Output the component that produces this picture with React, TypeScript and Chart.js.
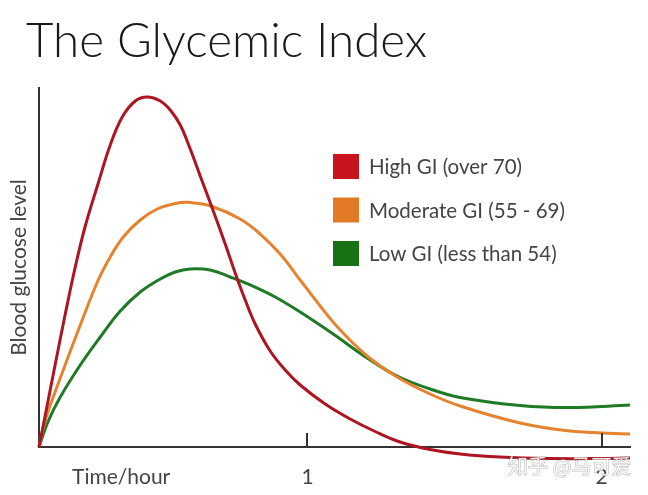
import React, { useEffect, useRef } from 'react';
import { Chart, registerables } from 'chart.js';

Chart.register(...registerables);

const chartTitle = 'The Glycemic Index';
const yAxisTitle = 'Blood glucose level';
const watermark = '知乎 @马可爱';

const seriesNames = ['High GI (over 70)', 'Moderate GI (55 - 69)', 'Low GI (less than 54)'];
const lineColors = ['#ad1520', '#e5832f', '#1f7a26'];
const boxColors = ['#c8141c', '#e27a25', '#167214'];

// time in hours, level in arbitrary units (0 = baseline)
const highHours = [0, 0.0235, 0.0607, 0.0979, 0.1351, 0.1724, 0.2208, 0.2654, 0.3101, 0.3585, 0.4032, 0.4516, 0.4888, 0.5261, 0.5633, 0.6005, 0.6452, 0.6936, 0.7308, 0.7681, 0.8053, 0.8611, 0.917, 0.9728, 1.0659, 1.159, 1.252, 1.3451, 1.4568, 1.5685, 1.7174, 1.9036, 2.0897, 2.2014];
const highLevel = [0, 8.91, 23.12, 37.05, 50.14, 61.56, 73.54, 84.12, 91.92, 96.38, 97.49, 96.38, 93.87, 89.69, 83.01, 75.49, 66.57, 56.55, 48.47, 40.95, 34.26, 26.74, 21.45, 17.27, 11.98, 7.8, 4.32, 1.39, -0.7, -1.95, -2.79, -3.2, -3.2, -3.06];

const moderateHours = [0, 0.0235, 0.0793, 0.1538, 0.2208, 0.2654, 0.3138, 0.3771, 0.4404, 0.5074, 0.5633, 0.6452, 0.7494, 0.8239, 0.8984, 0.9728, 1.0473, 1.1218, 1.2223, 1.3339, 1.4568, 1.5685, 1.7919, 1.9781, 2.2014];
const moderateLevel = [0, 7.52, 19.22, 33.98, 46.52, 52.92, 58.5, 63.23, 66.3, 67.83, 68.11, 66.99, 63.51, 59.33, 53.76, 46.52, 39.28, 32.59, 25.35, 19.5, 14.76, 11.42, 6.69, 4.46, 3.62];

const lowHours = [0, 0.0346, 0.0793, 0.1538, 0.2282, 0.3027, 0.3771, 0.4516, 0.5074, 0.5633, 0.6377, 0.7122, 0.7867, 0.8797, 0.9728, 1.0957, 1.2223, 1.3339, 1.4568, 1.5685, 1.7919, 1.9781, 2.2014];
const lowLevel = [0, 7.24, 13.93, 22.84, 30.64, 37.88, 43.18, 46.8, 48.75, 49.58, 49.3, 47.35, 45.13, 41.78, 37.6, 31.48, 24.79, 19.78, 16.16, 13.79, 11.56, 11.0, 11.7];

const xTickValues = [0.306, 1, 2.096];
const xTickLabels = ['Time/hour', '1', '2'];
const tickMarkValues = [1, 2.096];

const FONT = 'Lato, "Noto Sans", sans-serif';

const toPoints = (xs: number[], ys: number[]) => xs.map((x, i) => ({ x, y: ys[i] }));

const customPlugin = {
  id: 'customDecor',
  afterLayout(chart: any) {
    if (chart.titleBlock) chart.titleBlock.left = 26;
  },
  afterDraw(chart: any) {
    const ctx = chart.ctx;
    const xs = chart.scales.x;
    const area = chart.chartArea;
    ctx.save();
    // inward tick marks
    ctx.strokeStyle = '#333';
    ctx.lineWidth = 2;
    tickMarkValues.forEach((v) => {
      const px = Math.round(xs.getPixelForValue(v));
      ctx.beginPath();
      ctx.moveTo(px, area.bottom);
      ctx.lineTo(px, area.bottom - 14);
      ctx.stroke();
    });
    // legend
    const lx = 333;
    const rows = [166.5, 210, 253.5];
    ctx.font = `20.5px ${FONT}`;
    ctx.textBaseline = 'middle';
    ctx.textAlign = 'left';
    chart.data.datasets.forEach((ds: any, i: number) => {
      ctx.fillStyle = boxColors[i];
      ctx.fillRect(lx, rows[i] - 12.5, 26, 25);
      ctx.fillStyle = '#444';
      ctx.fillText(ds.label, lx + 36, rows[i] + 1);
    });
    // watermark
    ctx.font = '20px "Noto Sans CJK SC", sans-serif';
    ctx.textBaseline = 'middle';
    ctx.lineWidth = 1.2;
    ctx.strokeStyle = 'rgba(140,140,140,0.55)';
    ctx.fillStyle = 'rgba(255,255,255,0.85)';
    ctx.strokeText(watermark, 508, 466);
    ctx.fillText(watermark, 508, 466);
    ctx.restore();
  },
};

export default function App() {
  const ref = useRef<HTMLCanvasElement | null>(null);
  useEffect(() => {
    if (!ref.current) return;
    const chart = new Chart(ref.current, {
      type: 'line',
      data: {
        datasets: [
          { label: seriesNames[0], data: toPoints(highHours, highLevel), borderColor: lineColors[0] },
          { label: seriesNames[1], data: toPoints(moderateHours, moderateLevel), borderColor: lineColors[1] },
          { label: seriesNames[2], data: toPoints(lowHours, lowLevel), borderColor: lineColors[2] },
        ].map((d) => ({
          ...d,
          borderWidth: 3,
          pointRadius: 0,
          fill: false,
          tension: 0.4,
          clip: false as any,
        })),
      },
      options: {
        animation: false,
        responsive: false,
        events: [],
        layout: { padding: { left: 0, right: 18, top: 0, bottom: 0 } },
        plugins: {
          legend: { display: false },
          tooltip: { enabled: false },
          title: {
            display: true,
            text: chartTitle,
            align: 'start',
            color: '#1a1a1a',
            font: { family: FONT, size: 47.5, weight: '300' as any },
            padding: { top: 13.5, bottom: 17.5 },
          },
        },
        scales: {
          x: {
            type: 'linear',
            min: 0,
            max: 2.2014,
            grid: { display: false },
            border: { display: true, color: '#333', width: 2 },
            afterBuildTicks: (scale: any) => {
              scale.ticks = xTickValues.map((v) => ({ value: v }));
            },
            afterFit: (scale: any) => {
              scale.height = 48;
            },
            ticks: {
              autoSkip: false,
              maxRotation: 0,
              padding: 9.4,
              color: '#444',
              font: { family: FONT, size: 21 },
              callback: (_v: any, i: number) => xTickLabels[i],
            },
          },
          y: {
            min: 0,
            max: 100,
            grid: { display: false },
            border: { display: true, color: '#333', width: 2 },
            ticks: { display: false },
            afterFit: (scale: any) => {
              scale.width = 39;
            },
            title: {
              display: true,
              text: yAxisTitle,
              color: '#444',
              font: { family: FONT, size: 21 },
              padding: { top: 6.4, bottom: 0 },
            },
          },
        },
      },
      plugins: [customPlugin],
    });
    return () => chart.destroy();
  }, []);
  return (
    <div style={{ position: 'absolute', left: 0, top: 0, width: 648, height: 495, background: '#fff' }}>
      <canvas ref={ref} width={648} height={495} />
    </div>
  );
}
